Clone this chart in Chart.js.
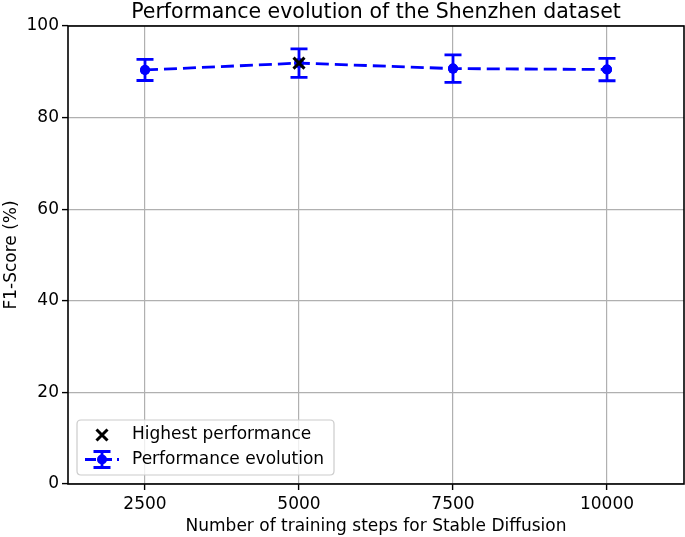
<!DOCTYPE html>
<html>
<head>
<meta charset="utf-8">
<script src="https://cdn.jsdelivr.net/npm/chart.js@4.4.0/dist/chart.umd.min.js"></script>
<style>
  html, body { margin: 0; padding: 0; background: #ffffff; }
  #wrap { width: 685px; height: 537px; position: relative; }
</style>
</head>
<body>
<div id="wrap"><canvas id="c" width="685" height="537"></canvas></div>
<script>
// ---- data ----
const steps = [2500, 5000, 7500, 10000];
const f1Mean = [90.4, 91.9, 90.7, 90.5];
const f1Err = [2.3, 3.1, 3.0, 2.45];
const bestStep = [5000];
const bestF1 = [91.9];
const xTickValues = [2500, 5000, 7500, 10000];
const yTickValues = [0, 20, 40, 60, 80, 100];
const titleText = 'Performance evolution of the Shenzhen dataset';
const xLabel = 'Number of training steps for Stable Diffusion';
const yLabel = 'F1-Score (%)';
const bestLabel = 'Highest performance';
const evoLabel = 'Performance evolution';

const FONT = "'DejaVu Sans', sans-serif";
const BLUE = '#0000ff';
const FS = 17;

const errorBarPlugin = {
  id: 'errorBars',
  afterDatasetsDraw(chart) {
    const ctx = chart.ctx;
    const xs = chart.scales.x, ys = chart.scales.y;
    ctx.save();
    ctx.strokeStyle = BLUE;
    ctx.lineWidth = 2.8;
    ctx.setLineDash([]);
    steps.forEach((s, i) => {
      const px = xs.getPixelForValue(s);
      const top = ys.getPixelForValue(f1Mean[i] + f1Err[i]);
      const bot = ys.getPixelForValue(f1Mean[i] - f1Err[i]);
      ctx.beginPath();
      ctx.moveTo(px, top); ctx.lineTo(px, bot);
      ctx.moveTo(px - 8.5, top); ctx.lineTo(px + 8.5, top);
      ctx.moveTo(px - 8.5, bot); ctx.lineTo(px + 8.5, bot);
      ctx.stroke();
    });
    ctx.fillStyle = BLUE;
    steps.forEach((s, i) => {
      if (s === bestStep[0]) return;
      const px = xs.getPixelForValue(s);
      const py = ys.getPixelForValue(f1Mean[i]);
      ctx.beginPath(); ctx.arc(px, py, 5, 0, Math.PI * 2); ctx.fill();
    });
    ctx.strokeStyle = '#000000';
    ctx.lineWidth = 3;
    bestStep.forEach((s, i) => {
      const px = xs.getPixelForValue(s);
      const py = ys.getPixelForValue(bestF1[i]);
      const r = 5.5;
      ctx.beginPath();
      ctx.moveTo(px - r, py - r); ctx.lineTo(px + r, py + r);
      ctx.moveTo(px - r, py + r); ctx.lineTo(px + r, py - r);
      ctx.stroke();
    });
    ctx.restore();
  }
};

const framePlugin = {
  id: 'frame',
  afterDraw(chart) {
    const ctx = chart.ctx;
    const a = chart.chartArea;
    ctx.save();
    ctx.strokeStyle = '#000000';
    ctx.lineWidth = 1.6;
    ctx.strokeRect(a.left, a.top, a.right - a.left, a.bottom - a.top);
    ctx.fillStyle = '#000000';
    ctx.font = '20.5px ' + FONT;
    ctx.textAlign = 'center';
    ctx.textBaseline = 'alphabetic';
    ctx.fillText(titleText, (a.left + a.right) / 2, 18);
    const lx = 77, ly = 420, lw = 257, lh = 55, rr = 4;
    ctx.beginPath();
    ctx.moveTo(lx + rr, ly);
    ctx.lineTo(lx + lw - rr, ly); ctx.quadraticCurveTo(lx + lw, ly, lx + lw, ly + rr);
    ctx.lineTo(lx + lw, ly + lh - rr); ctx.quadraticCurveTo(lx + lw, ly + lh, lx + lw - rr, ly + lh);
    ctx.lineTo(lx + rr, ly + lh); ctx.quadraticCurveTo(lx, ly + lh, lx, ly + lh - rr);
    ctx.lineTo(lx, ly + rr); ctx.quadraticCurveTo(lx, ly, lx + rr, ly);
    ctx.closePath();
    ctx.fillStyle = 'rgba(255,255,255,0.8)';
    ctx.fill();
    ctx.strokeStyle = '#cccccc';
    ctx.lineWidth = 1.2;
    ctx.stroke();
    const cx = 102;
    ctx.strokeStyle = '#000000';
    ctx.lineWidth = 3;
    const r = 5.5, y1 = 435;
    ctx.beginPath();
    ctx.moveTo(cx - r, y1 - r); ctx.lineTo(cx + r, y1 + r);
    ctx.moveTo(cx - r, y1 + r); ctx.lineTo(cx + r, y1 - r);
    ctx.stroke();
    const y2 = 459.5;
    ctx.strokeStyle = BLUE;
    ctx.lineWidth = 2.8;
    ctx.setLineDash([11, 5]);
    ctx.beginPath(); ctx.moveTo(85, y2); ctx.lineTo(119, y2); ctx.stroke();
    ctx.setLineDash([]);
    ctx.beginPath();
    ctx.moveTo(cx, y2 - 8); ctx.lineTo(cx, y2 + 8);
    ctx.moveTo(cx - 8.5, y2 - 8); ctx.lineTo(cx + 8.5, y2 - 8);
    ctx.moveTo(cx - 8.5, y2 + 8); ctx.lineTo(cx + 8.5, y2 + 8);
    ctx.stroke();
    ctx.fillStyle = BLUE;
    ctx.beginPath(); ctx.arc(cx, y2, 5, 0, Math.PI * 2); ctx.fill();
    ctx.fillStyle = '#000000';
    ctx.font = FS + 'px ' + FONT;
    ctx.textAlign = 'left';
    ctx.textBaseline = 'middle';
    ctx.fillText(bestLabel, 132, y1);
    ctx.fillText(evoLabel, 132, y2);
    ctx.restore();
  }
};

new Chart(document.getElementById('c'), {
  type: 'scatter',
  data: {
    datasets: [
      {
        label: bestLabel,
        data: bestStep.map((s, i) => ({ x: s, y: bestF1[i] })),
        pointRadius: 0,
        showLine: false,
        order: 0
      },
      {
        label: evoLabel,
        data: steps.map((s, i) => ({ x: s, y: f1Mean[i] })),
        showLine: true,
        borderColor: BLUE,
        backgroundColor: BLUE,
        borderWidth: 2.8,
        borderDash: [13, 6],
        pointRadius: 5,
        pointBorderWidth: 0,
        pointBackgroundColor: BLUE,
        order: 1
      }
    ]
  },
  options: {
    responsive: false,
    animation: false,
    devicePixelRatio: 1,
    layout: { autoPadding: false, padding: { top: 26, right: 1, left: 0, bottom: 0 } },
    plugins: { legend: { display: false }, title: { display: false }, tooltip: { enabled: false } },
    scales: {
      x: {
        type: 'linear',
        min: 1250,
        max: 11250,
        afterBuildTicks: (scale) => { scale.ticks = xTickValues.map(v => ({ value: v })); },
        afterFit: (scale) => { scale.height = 53; scale.paddingLeft = 0; scale.paddingRight = 0; },
        ticks: {
          callback: (v) => String(v),
          font: { family: FONT, size: FS },
          color: '#000000',
          padding: 4,
          maxRotation: 0
        },
        grid: { color: '#b0b0b0', lineWidth: 1.2, drawTicks: true, tickLength: 6, tickColor: '#000000', tickWidth: 1.4 },
        border: { display: false },
        title: { display: true, text: xLabel, font: { family: FONT, size: FS }, color: '#000000', padding: { top: 0, bottom: 0 } }
      },
      y: {
        min: 0,
        max: 100,
        afterBuildTicks: (scale) => { scale.ticks = yTickValues.map(v => ({ value: v })); },
        afterFit: (scale) => { scale.width = 68; scale.paddingTop = 0; scale.paddingBottom = 0; },
        ticks: {
          callback: (v) => String(v),
          font: { family: FONT, size: FS },
          color: '#000000',
          padding: 3
        },
        grid: { color: '#b0b0b0', lineWidth: 1.2, drawTicks: true, tickLength: 6, tickColor: '#000000', tickWidth: 1.4 },
        border: { display: false },
        title: { display: true, text: yLabel, font: { family: FONT, size: FS }, color: '#000000', padding: { top: 1, bottom: 0 } }
      }
    }
  },
  plugins: [errorBarPlugin, framePlugin]
});
</script>
</body>
</html>
